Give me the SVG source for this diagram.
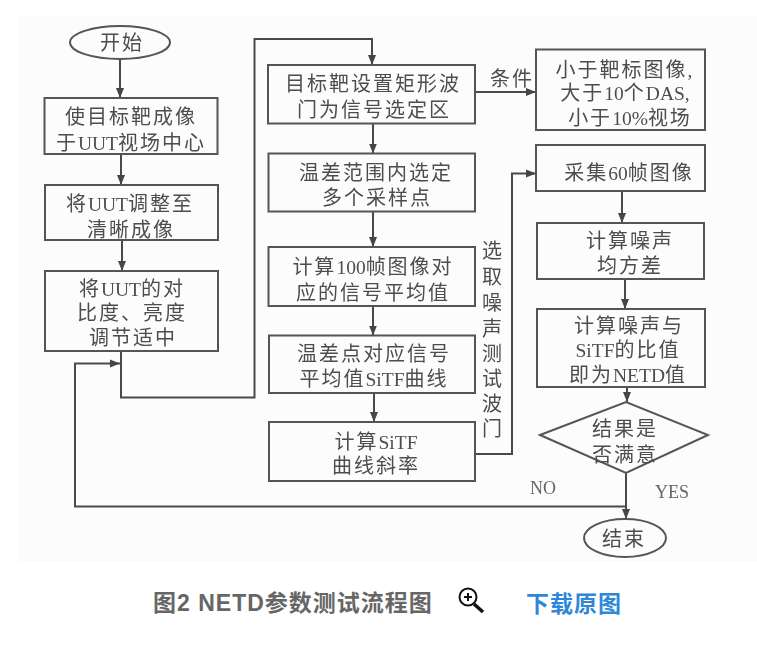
<svg xmlns="http://www.w3.org/2000/svg" width="757" height="645" viewBox="0 0 757 645">
<defs>
<filter id="soft" x="-2%" y="-2%" width="104%" height="104%"><feGaussianBlur stdDeviation="0.55"/></filter>
<marker id="arr" markerUnits="userSpaceOnUse" markerWidth="12" markerHeight="10" refX="10" refY="5" orient="auto"><path d="M0 1 L10 5 L0 9 Z" fill="#444"/></marker>
</defs>
<style>
.s{fill:none;stroke:#555;stroke-width:2}
.c{fill:none;stroke:#4a4a4a;stroke-width:2}
.t{font-family:"Liberation Serif","Noto Sans CJK SC",serif;font-size:20px;fill:#4d4d4d;text-anchor:middle;letter-spacing:2px}
.a{font-size:19.500px;letter-spacing:0}
.l{font-family:"Liberation Serif","Noto Sans CJK SC",serif;font-size:18px;fill:#666;text-anchor:middle}
.cap{font-family:"Liberation Sans","Noto Sans CJK SC",sans-serif;font-size:23px;font-weight:700;letter-spacing:1px}
</style>
<rect width="757" height="645" fill="#fff"/>
<rect x="18" y="15" width="739" height="547" fill="#fcfcfc"/>
<g filter="url(#soft)">
<g id="connectors">
<path class="c" d="M120 59V98" marker-end="url(#arr)"/>
<path class="c" d="M121 154V185" marker-end="url(#arr)"/>
<path class="c" d="M122 240V271" marker-end="url(#arr)"/>
<path class="c" d="M121 351V397.500H254.500V39H372V65" marker-end="url(#arr)"/>
<path class="c" d="M373 123.500V153.500" marker-end="url(#arr)"/>
<path class="c" d="M373 211.500V247" marker-end="url(#arr)"/>
<path class="c" d="M373 306V335.500" marker-end="url(#arr)"/>
<path class="c" d="M374 393V422" marker-end="url(#arr)"/>
<path class="c" d="M475 92H536" marker-end="url(#arr)"/>
<path class="c" d="M475 454H512V173.500H536" marker-end="url(#arr)"/>
<path class="c" d="M622 191V223" marker-end="url(#arr)"/>
<path class="c" d="M625 279V309" marker-end="url(#arr)"/>
<path class="c" d="M627 387V402" marker-end="url(#arr)"/>
<path class="c" d="M626 473V519" marker-end="url(#arr)"/>
<path class="c" d="M626 506.500H75V363.500H120" marker-end="url(#arr)"/>
</g>
<g id="start"><ellipse class="s" cx="120" cy="42.500" rx="50" ry="16.500"/><text class="t" x="122" y="50">开始</text></g>
<g id="n1"><rect class="s" x="44.500" y="98" width="173" height="56"/><text class="t" x="131" y="124">使目标靶成像</text><text class="t" x="131" y="150">于<tspan class="a">UUT</tspan>视场中心</text></g>
<g id="n2"><rect class="s" x="45" y="185" width="173" height="55"/><text class="t" x="130" y="211">将<tspan class="a">UUT</tspan>调整至</text><text class="t" x="131" y="237">清晰成像</text></g>
<g id="n3"><rect class="s" x="45" y="271" width="173" height="80"/><text class="t" x="132" y="296">将<tspan class="a">UUT</tspan>的对</text><text class="t" x="132" y="320">比度、亮度</text><text class="t" x="133" y="345">调节适中</text></g>
<g id="m1"><rect class="s" x="268" y="65" width="207" height="58.500"/><text class="t" x="373" y="91">目标靶设置矩形波</text><text class="t" x="374" y="117">门为信号选定区</text></g>
<g id="m2"><rect class="s" x="268.500" y="153.500" width="206.500" height="58"/><text class="t" x="376" y="180">温差范围内选定</text><text class="t" x="377" y="205">多个采样点</text></g>
<g id="m3"><rect class="s" x="268.500" y="247" width="206.500" height="59"/><text class="t" x="373" y="274">计算<tspan class="a">100</tspan>帧图像对</text><text class="t" x="373" y="300">应的信号平均值</text></g>
<g id="m4"><rect class="s" x="269" y="335.500" width="206" height="57.500"/><text class="t" x="374" y="361">温差点对应信号</text><text class="t" x="374" y="386">平均值<tspan class="a">SiTF</tspan>曲线</text></g>
<g id="m5"><rect class="s" x="269" y="422" width="206" height="59"/><text class="t" x="376" y="449">计算<tspan class="a">SiTF</tspan></text><text class="t" x="376" y="473">曲线斜率</text></g>
<g id="r1"><rect class="s" x="536" y="49.500" width="169" height="80.500"/><text class="t" x="624" y="77">小于靶标图像<tspan class="a">,</tspan></text><text class="t" x="625" y="100">大于<tspan class="a">10</tspan>个<tspan class="a">DAS,</tspan></text><text class="t" x="630" y="125">小于<tspan class="a">10%</tspan>视场</text></g>
<g id="r2"><rect class="s" x="536" y="145" width="169" height="46"/><text class="t" x="629" y="180">采集<tspan class="a">60</tspan>帧图像</text></g>
<g id="r3"><rect class="s" x="537" y="223" width="167" height="56"/><text class="t" x="630" y="248">计算噪声</text><text class="t" x="630" y="273">均方差</text></g>
<g id="r4"><rect class="s" x="537" y="309" width="168" height="78"/><text class="t" x="629" y="333">计算噪声与</text><text class="t" x="628" y="357"><tspan class="a">SiTF</tspan>的比值</text><text class="t" x="628" y="382">即为<tspan class="a">NETD</tspan>值</text></g>
<g id="decision"><path class="s" d="M540 435L626 402L708 435L626 473Z"/><text class="t" x="625" y="436">结果是</text><text class="t" x="625" y="462">否满意</text></g>
<g id="end"><ellipse class="s" cx="625" cy="538" rx="41" ry="19"/><text class="t" x="624" y="546">结束</text></g>
<g id="labels">
<text class="t" x="512" y="86">条件</text>
<text class="t" x="493" y="258">选</text><text class="t" x="493" y="284">取</text><text class="t" x="493" y="310">噪</text><text class="t" x="493" y="336">声</text><text class="t" x="493" y="361">测</text><text class="t" x="493" y="386">试</text><text class="t" x="493" y="411">波</text><text class="t" x="493" y="436">门</text>
<text class="l" x="543" y="494">NO</text>
<text class="l" x="672" y="498">YES</text>
</g>
</g>
<text class="cap" x="153" y="611" fill="#666">图2 NETD参数测试流程图</text>
<text class="cap" x="526" y="612" fill="#2f87d8">下载原图</text>
<g id="zoom-icon" fill="none" stroke="#111"><circle cx="468" cy="597" r="8.500" stroke-width="2"/><path d="M464 597H472M468 593V601" stroke-width="2"/><path d="M474 604L483 612" stroke-width="3.500"/></g>
</svg>
